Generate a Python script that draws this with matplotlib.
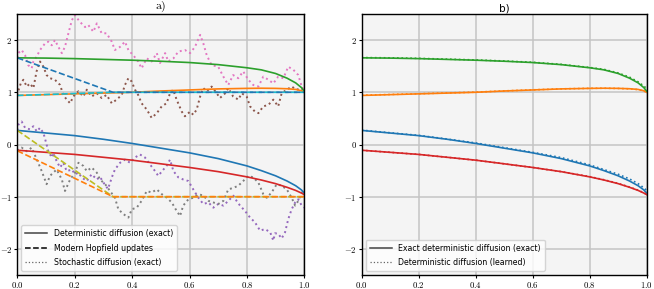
import matplotlib
matplotlib.use("Agg")
import matplotlib.pyplot as plt
from matplotlib.lines import Line2D
from matplotlib.ticker import FuncFormatter

plt.rcParams['mathtext.fontset'] = 'cm'

# ---------------- data ----------------
# smooth (exact deterministic diffusion) trajectories
t_smooth = [0, 0.1, 0.2, 0.3, 0.4, 0.5, 0.6, 0.7, 0.8, 0.85, 0.9, 0.94, 0.97, 0.99, 1.0]
green_exact = [1.66, 1.655, 1.645, 1.63, 1.615, 1.595, 1.57, 1.53, 1.47, 1.43, 1.36, 1.27, 1.18, 1.09, 1.02]
orange_exact = [0.94, 0.955, 0.97, 0.985, 1.0, 1.025, 1.045, 1.065, 1.075, 1.078, 1.075, 1.068, 1.055, 1.03, 1.0]
blue_exact = [0.27, 0.22, 0.17, 0.10, 0.02, -0.07, -0.16, -0.27, -0.41, -0.50, -0.60, -0.70, -0.79, -0.87, -0.93]
red_exact = [-0.11, -0.15, -0.19, -0.245, -0.30, -0.37, -0.44, -0.52, -0.62, -0.68, -0.75, -0.82, -0.88, -0.93, -0.96]

# learned deterministic diffusion (panel b)
green_learned = [1.665, 1.66, 1.65, 1.635, 1.62, 1.60, 1.575, 1.535, 1.475, 1.44, 1.37, 1.29, 1.20, 1.12, 1.07]
orange_learned = [0.945, 0.958, 0.972, 0.988, 1.003, 1.027, 1.047, 1.066, 1.076, 1.078, 1.074, 1.066, 1.052, 1.025, 1.0]
blue_learned = [0.275, 0.225, 0.175, 0.105, 0.03, -0.06, -0.15, -0.25, -0.39, -0.48, -0.57, -0.66, -0.75, -0.83, -0.88]
red_learned = [-0.11, -0.15, -0.19, -0.245, -0.30, -0.37, -0.44, -0.52, -0.615, -0.675, -0.745, -0.815, -0.875, -0.925, -0.955]

# modern Hopfield updates
t_hopfield = [0, 1/3, 2/3, 1.0]
hop_blue = [1.66, 1.0, 1.0, 1.0]
hop_cyan = [0.94, 1.0, 1.0, 1.0]
hop_olive = [0.27, -1.0, -1.0, -1.0]
hop_orange = [-0.12, -1.0, -1.0, -1.0]

# stochastic diffusion sample paths
pink_t = [0, 0.003, 0.015, 0.027, 0.038, 0.05, 0.056, 0.067, 0.079, 0.097, 0.108, 0.12, 0.131, 0.143, 0.155,
          0.166, 0.178, 0.19, 0.20, 0.218, 0.236, 0.247, 0.265, 0.277, 0.294, 0.311, 0.329, 0.34, 0.358, 0.375,
          0.387, 0.404, 0.421, 0.433, 0.451, 0.468, 0.486, 0.497, 0.515, 0.526, 0.544, 0.561, 0.584, 0.602, 0.619,
          0.637, 0.648, 0.66, 0.677, 0.70, 0.718, 0.735, 0.752, 0.77, 0.787, 0.805, 0.822, 0.84, 0.857, 0.875,
          0.892, 0.909, 0.927, 0.944, 0.962, 0.979, 0.991, 1.0]
pink_v = [1.66, 1.75, 1.81, 1.71, 1.52, 1.46, 1.59, 1.68, 1.81, 1.94, 1.97, 1.90, 2.0, 1.87, 1.75,
          1.87, 2.13, 2.38, 2.48, 2.35, 2.25, 2.29, 2.16, 2.32, 2.13, 2.13, 1.97, 1.81, 1.87, 1.97,
          1.81, 1.71, 1.59, 1.46, 1.65, 1.59, 1.75, 1.56, 1.75, 1.59, 1.65, 1.78, 1.81, 1.75, 1.87,
          2.10, 1.94, 1.71, 1.52, 1.49, 1.30, 1.14, 1.33, 1.27, 1.40, 1.24, 1.14, 1.11, 1.30, 1.24,
          1.17, 1.30, 1.27, 1.49, 1.43, 1.33, 1.11, 1.05]

brown_t = [0, 0.003, 0.012, 0.021, 0.033, 0.044, 0.056, 0.067, 0.079, 0.091, 0.102, 0.114, 0.131, 0.149, 0.16,
           0.172, 0.184, 0.195, 0.213, 0.23, 0.242, 0.259, 0.277, 0.294, 0.311, 0.329, 0.346, 0.364, 0.375, 0.387,
           0.398, 0.41, 0.421, 0.433, 0.451, 0.468, 0.486, 0.503, 0.52, 0.532, 0.543, 0.555, 0.573, 0.584, 0.602,
           0.613, 0.625, 0.637, 0.648, 0.66, 0.677, 0.695, 0.706, 0.724, 0.735, 0.752, 0.77, 0.782, 0.799, 0.811,
           0.828, 0.84, 0.857, 0.875, 0.892, 0.909, 0.921, 0.939, 0.956, 0.973, 0.991, 1.0]
brown_v = [0.94, 1.02, 1.17, 1.24, 1.11, 1.17, 1.08, 1.40, 1.59, 1.49, 1.33, 1.27, 1.24, 1.14, 0.95,
           0.86, 0.79, 0.92, 1.02, 0.92, 1.05, 0.92, 0.98, 0.89, 0.95, 0.79, 0.86, 0.95, 1.14, 1.27,
           1.21, 1.05, 0.95, 0.79, 0.67, 0.51, 0.60, 0.73, 0.79, 0.98, 1.05, 0.86, 0.63, 0.54, 0.63,
           0.57, 0.67, 0.92, 1.08, 1.02, 1.11, 0.98, 0.89, 0.98, 1.08, 0.92, 0.86, 0.98, 0.92, 0.73,
           0.63, 0.60, 0.73, 0.76, 0.86, 0.73, 0.98, 1.05, 1.11, 1.05, 1.08, 1.0]

purple_t = [0, 0.0035, 0.015, 0.027, 0.044, 0.056, 0.068, 0.079, 0.091, 0.097, 0.102, 0.108, 0.12, 0.125, 0.137,
            0.149, 0.16, 0.172, 0.19, 0.201, 0.213, 0.224, 0.242, 0.259, 0.277, 0.288, 0.306, 0.316, 0.33, 0.34,
            0.358, 0.375, 0.393, 0.41, 0.427, 0.445, 0.462, 0.48, 0.491, 0.509, 0.52, 0.532, 0.544, 0.561, 0.578,
            0.596, 0.613, 0.631, 0.648, 0.666, 0.683, 0.70, 0.718, 0.735, 0.753, 0.764, 0.776, 0.793, 0.811, 0.828,
            0.846, 0.863, 0.881, 0.892, 0.898, 0.909, 0.921, 0.933, 0.944, 0.956, 0.968, 0.979, 0.991, 1.0]
purple_v = [0.27, 0.38, 0.44, 0.32, 0.29, 0.35, 0.25, 0.32, 0.22, 0.10, 0.0, -0.13, -0.25, -0.16, -0.32,
            -0.44, -0.35, -0.51, -0.48, -0.57, -0.54, -0.63, -0.70, -0.57, -0.67, -0.62, -0.78, -0.85, -0.62, -0.48,
            -0.35, -0.29, -0.35, -0.25, -0.19, -0.25, -0.38, -0.51, -0.60, -0.48, -0.41, -0.29, -0.51, -0.63, -0.67,
            -0.70, -0.86, -1.02, -1.14, -1.11, -1.21, -1.14, -1.17, -1.08, -0.98, -1.08, -1.17, -1.27, -1.40, -1.49,
            -1.65, -1.62, -1.68, -1.84, -1.70, -1.71, -1.80, -1.68, -1.43, -1.24, -1.11, -1.05, -1.17, -1.21]

gray_t = [0, 0.0035, 0.015, 0.033, 0.05, 0.068, 0.085, 0.102, 0.114, 0.125, 0.137, 0.155, 0.166, 0.184, 0.201,
          0.213, 0.23, 0.242, 0.259, 0.277, 0.288, 0.306, 0.323, 0.34, 0.352, 0.369, 0.387, 0.399, 0.416, 0.433,
          0.451, 0.468, 0.486, 0.503, 0.521, 0.538, 0.555, 0.567, 0.578, 0.596, 0.613, 0.631, 0.648, 0.666, 0.683,
          0.70, 0.718, 0.735, 0.753, 0.77, 0.787, 0.805, 0.822, 0.84, 0.857, 0.869, 0.886, 0.904, 0.921, 0.939,
          0.956, 0.968, 0.979, 0.991, 1.0]
gray_v = [-0.12, -0.10, -0.06, -0.13, -0.06, -0.29, -0.51, -0.76, -0.60, -0.54, -0.48, -0.67, -0.89, -0.67, -0.54,
          -0.35, -0.41, -0.51, -0.44, -0.54, -0.67, -0.76, -0.89, -1.02, -1.24, -1.33, -1.40, -1.24, -1.21, -1.08,
          -0.89, -0.92, -0.86, -0.95, -1.02, -1.11, -1.27, -1.37, -1.17, -1.05, -1.02, -0.95, -0.98, -1.08, -1.11,
          -1.14, -1.08, -0.86, -0.83, -0.79, -0.70, -0.60, -0.63, -0.73, -0.95, -1.02, -0.92, -0.76, -0.79, -0.86,
          -1.02, -1.17, -1.08, -0.92, -0.92]

legend_a = ["Deterministic diffusion (exact)", "Modern Hopfield updates", "Stochastic diffusion (exact)"]
legend_b = ["Exact deterministic diffusion (exact)", "Deterministic diffusion (learned)"]
x_ticks = [0.0, 0.2, 0.4, 0.6, 0.8, 1.0]
y_ticks = [-2, -1, 0, 1, 2]

C = {'blue': '#1f77b4', 'orange': '#ff7f0e', 'green': '#2ca02c', 'red': '#d62728',
     'purple': '#9467bd', 'brown': '#8c564b', 'pink': '#e377c2', 'gray': '#7f7f7f',
     'olive': '#bcbd22', 'cyan': '#17becf'}

# ---------------- figure ----------------
fig = plt.figure(figsize=(6.54, 2.89), dpi=100)
axa = fig.add_axes([0.0265, 0.0484, 0.4388, 0.9032])
axb = fig.add_axes([0.553, 0.0484, 0.4358, 0.9032])

fmt_x = FuncFormatter(lambda v, p: r'$%.1f$' % v)
fmt_y = FuncFormatter(lambda v, p: r'$%d$' % round(v))

for ax in (axa, axb):
    ax.set_facecolor('#f4f4f4')
    ax.set_xlim(0, 1)
    ax.set_ylim(-2.5, 2.5)
    ax.set_xticks(x_ticks)
    ax.set_yticks(y_ticks)
    ax.xaxis.set_major_formatter(fmt_x)
    ax.yaxis.set_major_formatter(fmt_y)
    ax.grid(True, color='#c4c4c4', linewidth=1.1)
    ax.set_axisbelow(True)
    ax.tick_params(labelsize=6.3, length=2.5, width=0.8, pad=1.2)
    for s in ax.spines.values():
        s.set_linewidth(1.0)
        s.set_color('black')

lw = 1.2
# panel a
axa.plot(pink_t, pink_v, ':', color=C['pink'], lw=1.4)
axa.plot(brown_t, brown_v, ':', color=C['brown'], lw=1.4)
axa.plot(purple_t, purple_v, ':', color=C['purple'], lw=1.4)
axa.plot(gray_t, gray_v, ':', color=C['gray'], lw=1.4)
axa.plot(t_smooth, blue_exact, '-', color=C['blue'], lw=lw)
axa.plot(t_smooth, orange_exact, '-', color=C['orange'], lw=lw)
axa.plot(t_smooth, green_exact, '-', color=C['green'], lw=lw)
axa.plot(t_smooth, red_exact, '-', color=C['red'], lw=lw)
axa.plot(t_hopfield, hop_cyan, '--', color=C['cyan'], lw=lw)
axa.plot(t_hopfield, hop_blue, '--', color=C['blue'], lw=lw)
axa.plot(t_hopfield, hop_olive, '--', color=C['olive'], lw=lw)
axa.plot(t_hopfield, hop_orange, '--', color=C['orange'], lw=lw)
axa.set_title(r'$\mathrm{a)}$', fontsize=8.5, pad=2)

leg_kw = dict(loc='lower left', fontsize=5.7, frameon=True, fancybox=True, framealpha=0.8,
              edgecolor='#cccccc', borderaxespad=0.5, handlelength=2.8, handletextpad=0.8,
              labelspacing=0.7, borderpad=0.5)

handles_a = [Line2D([], [], color='#444444', ls='-', lw=1.1),
             Line2D([], [], color='black', ls='--', lw=1.1),
             Line2D([], [], color='#666666', ls=':', lw=0.9)]
axa.legend(handles_a, legend_a, **leg_kw)

# panel b
axb.plot(t_smooth, blue_exact, '-', color=C['blue'], lw=lw)
axb.plot(t_smooth, orange_exact, '-', color=C['orange'], lw=lw)
axb.plot(t_smooth, green_exact, '-', color=C['green'], lw=lw)
axb.plot(t_smooth, red_exact, '-', color=C['red'], lw=lw)
axb.plot(t_smooth, blue_learned, ':', color=C['blue'], lw=lw)
axb.plot(t_smooth, orange_learned, ':', color=C['orange'], lw=lw)
axb.plot(t_smooth, green_learned, ':', color=C['green'], lw=lw)
axb.plot(t_smooth, red_learned, ':', color=C['red'], lw=lw)
axb.set_title('b)', fontsize=7.5, pad=2)

handles_b = [Line2D([], [], color='#444444', ls='-', lw=1.1),
             Line2D([], [], color='#666666', ls=':', lw=0.9)]
axb.legend(handles_b, legend_b, **leg_kw)

fig.savefig('out.png', dpi=100)
